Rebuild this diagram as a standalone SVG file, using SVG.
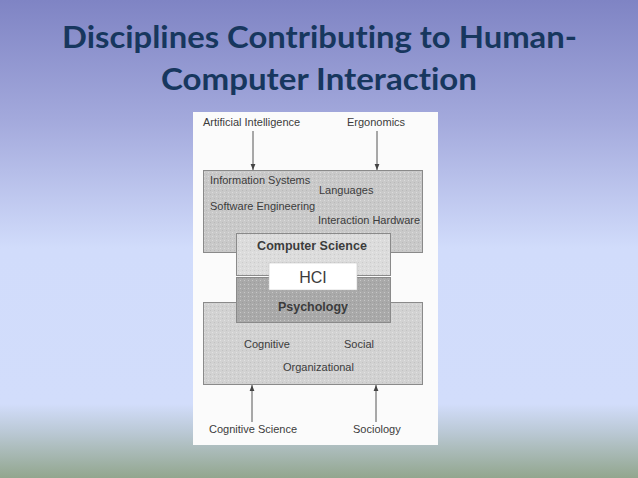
<svg xmlns="http://www.w3.org/2000/svg" width="638" height="478" viewBox="0 0 638 478">
<defs>
<linearGradient id="bg" x1="0" y1="0" x2="0" y2="1">
<stop offset="0" stop-color="#7f84c4"/>
<stop offset="0.25" stop-color="#a3a9dc"/>
<stop offset="0.52" stop-color="#d1dcfb"/>
<stop offset="0.845" stop-color="#d2ddfb"/>
<stop offset="0.9" stop-color="#bccad8"/>
<stop offset="1" stop-color="#92a68e"/>
</linearGradient>
<pattern id="dots" width="4" height="4" patternUnits="userSpaceOnUse">
<rect x="0" y="0" width="1" height="1" fill="#ffffff" fill-opacity="0.35"/>
<rect x="2" y="2" width="1" height="1" fill="#000000" fill-opacity="0.08"/>
</pattern>
<marker id="ah" viewBox="0 0 10 10" refX="10" refY="5" markerWidth="6" markerHeight="6" markerUnits="userSpaceOnUse" orient="auto">
<path d="M0,1 L10,5 L0,9 Z" fill="#444"/>
</marker>
</defs>
<style>
.t{font-family:"Liberation Sans",Arial,sans-serif;font-size:11px;fill:#3c3c3c}
.b{font-family:"Liberation Sans",Arial,sans-serif;font-size:12.5px;font-weight:bold;fill:#3c3c3c}
.box{stroke:#8a8a8a;stroke-width:1}
.tex{fill:url(#dots)}
.title{font-family:Lato,"Open Sans",sans-serif;font-weight:bold;font-size:31px;fill:#17375e;font-variant-ligatures:none;font-feature-settings:"liga" 0}
.conn{stroke:#555;stroke-width:1;fill:none}
</style>
<rect x="0" y="0" width="638" height="478" fill="url(#bg)"/>
<g id="title">
<text class="title" x="62" y="48" textLength="515" lengthAdjust="spacingAndGlyphs">Disciplines Contributing to Human-</text>
<text class="title" x="161" y="90" textLength="316" lengthAdjust="spacingAndGlyphs">Computer Interaction</text>
</g>
<rect x="193" y="112" width="245" height="333" fill="#fbfbfb"/>
<g id="cs-outer">
<rect class="box" x="203.5" y="170.5" width="219" height="82" fill="#c9c9c9"/>
<rect class="tex" x="204" y="171" width="218" height="81"/>
<text class="t" x="210" y="184">Information Systems</text>
<text class="t" x="319" y="194">Languages</text>
<text class="t" x="210" y="210">Software Engineering</text>
<text class="t" x="318" y="224">Interaction Hardware</text>
</g>
<g id="psych-outer">
<rect class="box" x="203.5" y="302.5" width="219" height="82" fill="#d2d2d2"/>
<rect class="tex" x="204" y="303" width="218" height="81"/>
<text class="t" x="244" y="348">Cognitive</text>
<text class="t" x="344" y="348">Social</text>
<text class="t" x="283" y="371">Organizational</text>
</g>
<g id="computer-science">
<rect class="box" x="236.5" y="233.5" width="154" height="42" fill="#dcdcdc"/>
<rect class="tex" x="237" y="234" width="153" height="41"/>
<text class="b" x="312" y="250" text-anchor="middle">Computer Science</text>
</g>
<g id="psychology">
<rect class="box" x="236.5" y="277.5" width="154" height="45" fill="#a9a9a9"/>
<rect class="tex" x="237" y="278" width="153" height="44"/>
<text class="b" x="313" y="311" text-anchor="middle">Psychology</text>
</g>
<g id="hci">
<rect x="269" y="263" width="88" height="27" fill="#ffffff" stroke="#bbb" stroke-width="0.5"/>
<text class="t" x="313" y="283" text-anchor="middle" style="font-size:16px">HCI</text>
</g>
<g id="artificial-intelligence"><text class="t" x="203" y="126">Artificial Intelligence</text></g>
<g id="ergonomics"><text class="t" x="347" y="126">Ergonomics</text></g>
<g id="cognitive-science"><text class="t" x="209" y="433">Cognitive Science</text></g>
<g id="sociology"><text class="t" x="353" y="433">Sociology</text></g>
<g id="connectors">
<line class="conn" x1="253" y1="131" x2="253" y2="170" marker-end="url(#ah)"/>
<line class="conn" x1="377" y1="131" x2="377" y2="170" marker-end="url(#ah)"/>
<line class="conn" x1="252" y1="422" x2="252" y2="385" marker-end="url(#ah)"/>
<line class="conn" x1="376" y1="422" x2="376" y2="385" marker-end="url(#ah)"/>
</g>
</svg>
